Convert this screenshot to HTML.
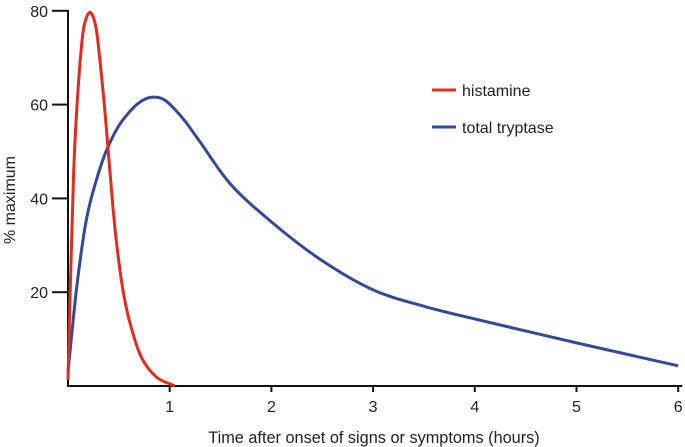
<!DOCTYPE html>
<html><head><meta charset="utf-8"><style>
body{margin:0;background:#fff;}
svg{display:block;font-family:"Liberation Sans",Arial,sans-serif;}
</style></head><body>
<svg id="chart" width="685" height="447">
<g id="axes"></g>
<g id="series"></g>
<g>
<line x1="432" y1="90" x2="456" y2="90" stroke="#e32b1e" stroke-width="3"/>
<text x="462" y="96" font-size="16" fill="#222">histamine</text>
<line x1="432" y1="127" x2="456" y2="127" stroke="#34499a" stroke-width="3"/>
<text x="462" y="133" font-size="16" fill="#222">total tryptase</text>
</g>
<text x="374" y="443" font-size="16.3" text-anchor="middle" fill="#222">Time after onset of signs or symptoms (hours)</text>
<text transform="translate(15,200) rotate(-90)" font-size="16" text-anchor="middle" fill="#222">% maximum</text>
</svg>
<script>
const xTicks=[1,2,3,4,5,6];
const yTicks=[20,40,60,80];
const histT=[0,0.02,0.046,0.062,0.089,0.125,0.16,0.216,0.27,0.308,0.357,0.40,0.44,0.48,0.54,0.61,0.72,0.87,1.05];
const histV=[1.3,19,38.6,49,60,70.6,77,79.7,77,70.6,60,49,38.6,30,20.5,13.4,6.2,1.9,0];
const tryT=[0,0.08,0.15,0.2,0.28,0.374,0.5,0.65,0.76,0.855,0.95,1.05,1.15,1.3,1.6,2,2.48,3,3.5,4,5,6];
const tryV=[3,20,31.5,37.5,44,50,55.5,59.5,61.2,61.6,61,59,56.5,52,43,35,27,20.5,17,14.3,9.2,4.3];
const X=t=>68+t*101.7, Y=v=>386-v*4.69;
const NS="http://www.w3.org/2000/svg";
const axes=document.getElementById('axes'), series=document.getElementById('series');
function mk(tag,attrs,parent){const e=document.createElementNS(NS,tag);for(const k in attrs)e.setAttribute(k,attrs[k]);parent.appendChild(e);return e;}
let e=mk('path',{d:`M${X(0)},10 V${Y(0)} H${X(6)+4}`,fill:'none',stroke:'#111','stroke-width':2},axes);


xTicks.forEach(t=>{
 let l=mk('line',{x1:X(t),x2:X(t),y1:Y(0),y2:Y(0)+6,stroke:'#111','stroke-width':2},axes);
 
 
 let s=mk('text',{x:X(t),y:Y(0)+26,'font-size':16,'text-anchor':'middle',fill:'#222'},axes);s.textContent=t;
 
 
});
yTicks.forEach(v=>{
 let l=mk('line',{x1:X(0)-16,x2:X(0),y1:Y(v),y2:Y(v),stroke:'#111','stroke-width':2},axes);
 
 
 let s=mk('text',{x:X(0)-20,y:Y(v)+6,'font-size':16,'text-anchor':'end',fill:'#222'},axes);s.textContent=v;
 
 
});
function smooth(ts,vs){
 const p=ts.map((t,i)=>[X(t),Y(vs[i])]);
 let d=`M${p[0][0]},${p[0][1]}`;
 const dist=(a,b)=>Math.pow(Math.hypot(a[0]-b[0],a[1]-b[1]),0.5)||1e-6;
 for(let i=0;i<p.length-1;i++){
  const p1=p[i],p2=p[i+1];
  const p0=p[i-1]||[2*p1[0]-p2[0],2*p1[1]-p2[1]];
  const p3=p[i+2]||[2*p2[0]-p1[0],2*p2[1]-p1[1]];
  const d1=dist(p0,p1),d2=dist(p1,p2),d3=dist(p2,p3);
  const c1=[0,1].map(k=>p1[k]+((p2[k]-p0[k])*d2/(d1+d2))/3);
  const c2=[0,1].map(k=>p2[k]-((p3[k]-p1[k])*d2/(d2+d3))/3);
  d+=` C${c1[0]},${c1[1]} ${c2[0]},${c2[1]} ${p2[0]},${p2[1]}`;
 }
 return d;
}
let tl=mk('path',{d:smooth(tryT,tryV),fill:'none',stroke:'#34499a','stroke-width':3,'stroke-linejoin':'round'},series);


let hl=mk('path',{d:smooth(histT,histV),fill:'none',stroke:'#e32b1e','stroke-width':3,'stroke-linejoin':'round'},series);


</script>
</body></html>
